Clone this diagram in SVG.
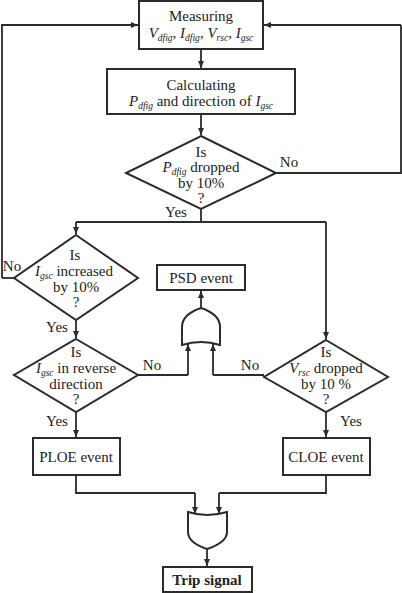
<svg xmlns="http://www.w3.org/2000/svg" width="402" height="593" viewBox="0 0 402 593">
<style>
.box{fill:#fff;stroke:#2b2b2b;stroke-width:2}
.ln{fill:none;stroke:#2b2b2b;stroke-width:1.8}
.ar{fill:none;stroke:#2b2b2b;stroke-width:1.8;marker-end:url(#ah)}
text{font-family:"Liberation Serif","Times New Roman",serif;font-size:15px;fill:#222;text-anchor:middle}
.i{font-style:italic}
.s{font-style:italic;font-size:9.5px}
.b{font-weight:bold}
</style>
<defs>
<marker id="ah" markerWidth="8" markerHeight="8" refX="7" refY="4" orient="auto" markerUnits="userSpaceOnUse">
<path d="M0,1 L7,4 L0,7 Z" fill="#2b2b2b"/>
</marker>
</defs>
<rect width="402" height="593" fill="#fff"/>
<g id="connectors">
<path class="ln" d="M2,278 H14"/>
<path class="ar" d="M2,278 V25 H138"/>
<path class="ln" d="M276,173 H401 V25"/>
<path class="ar" d="M401,25 H264"/>
<path class="ar" d="M201,49 V68"/>
<path class="ar" d="M201,114 V135"/>
<path class="ln" d="M201,209 V222 M76,222 H326"/>
<path class="ar" d="M76,222 V234"/>
<path class="ar" d="M326,222 V339"/>
<path class="ar" d="M76,320 V338"/>
<path class="ln" d="M138,375 H188"/>
<path class="ar" d="M188,375 V344"/>
<path class="ln" d="M264,375 H213"/>
<path class="ar" d="M213,375 V344"/>
<path class="ar" d="M201,309 V291"/>
<path class="ar" d="M76,412 V437"/>
<path class="ar" d="M326,412 V437"/>
<path class="ln" d="M76,475 V493 H195"/>
<path class="ar" d="M195,493 V514"/>
<path class="ln" d="M326,475 V493 H219"/>
<path class="ar" d="M219,493 V514"/>
<path class="ar" d="M207,549 V566"/>
</g>
<g id="measuring">
<rect class="box" x="139" y="1" width="124" height="48"/>
<text x="201" y="21">Measuring</text>
<text x="201" y="38"><tspan class="i">V</tspan><tspan class="s" dy="2.5">dfig</tspan><tspan dy="-2.5">, </tspan><tspan class="i">I</tspan><tspan class="s" dy="2.5">dfig</tspan><tspan dy="-2.5">, </tspan><tspan class="i">V</tspan><tspan class="s" dy="2.5">rsc</tspan><tspan dy="-2.5">, </tspan><tspan class="i">I</tspan><tspan class="s" dy="2.5">gsc</tspan></text>
</g>
<g id="calculating">
<rect class="box" x="107" y="69" width="188" height="45"/>
<text x="201" y="90">Calculating</text>
<text x="201" y="106"><tspan class="i">P</tspan><tspan class="s" dy="2.5">dfig</tspan><tspan dy="-2.5"> and direction of </tspan><tspan class="i">I</tspan><tspan class="s" dy="2.5">gsc</tspan></text>
</g>
<g id="d1">
<path class="box" d="M201,136 L276,173 L201,209 L126,173 Z"/>
<text x="201" y="157">Is</text>
<text x="201" y="172"><tspan class="i">P</tspan><tspan class="s" dy="2.5">dfig</tspan><tspan dy="-2.5"> dropped</tspan></text>
<text x="201" y="188">by 10%</text>
<text x="201" y="203">?</text>
<text x="289" y="167">No</text>
<text x="176" y="217">Yes</text>
</g>
<g id="d2">
<path class="box" d="M76,235 L138,278 L76,320 L14,278 Z"/>
<text x="75" y="260">Is</text>
<text x="74" y="276"><tspan class="i">I</tspan><tspan class="s" dy="2.5">gsc</tspan><tspan dy="-2.5"> increased</tspan></text>
<text x="76" y="292">by 10%</text>
<text x="76" y="307">?</text>
<text x="12" y="271">No</text>
<text x="57" y="332">Yes</text>
</g>
<g id="d3">
<path class="box" d="M76,339 L138,375 L76,412 L14,375 Z"/>
<text x="76" y="357">Is</text>
<text x="76" y="373"><tspan class="i">I</tspan><tspan class="s" dy="2.5">gsc</tspan><tspan dy="-2.5"> in reverse</tspan></text>
<text x="76" y="389">direction</text>
<text x="76" y="404">?</text>
<text x="152" y="370">No</text>
<text x="57" y="426">Yes</text>
</g>
<g id="d4">
<path class="box" d="M326,340 L388,377 L326,412 L264,377 Z"/>
<text x="326" y="357">Is</text>
<text x="326" y="373"><tspan class="i">V</tspan><tspan class="s" dy="2.5">rsc</tspan><tspan dy="-2.5"> dropped</tspan></text>
<text x="326" y="389">by 10 %</text>
<text x="326" y="404">?</text>
<text x="250" y="370">No</text>
<text x="351" y="426">Yes</text>
</g>
<g id="psd">
<rect class="box" x="157" y="265" width="88" height="25"/>
<text x="201" y="283">PSD event</text>
</g>
<g id="gate1">
<path class="box" d="M182,345 V327 C182,316 192,311 201,308 C210,311 220,316 220,327 V345 Q201,339 182,345 Z"/>
</g>
<g id="ploe">
<rect class="box" x="33" y="438" width="87" height="37"/>
<text x="76" y="462">PLOE event</text>
</g>
<g id="cloe">
<rect class="box" x="283" y="438" width="87" height="37"/>
<text x="326" y="462">CLOE event</text>
</g>
<g id="gate2">
<path class="box" d="M188,512 Q207,518 227,512 V532 C227,541 216,546 207,549 C198,546 188,541 188,532 Z"/>
</g>
<g id="trip">
<rect class="box" x="163" y="567" width="89" height="25"/>
<text class="b" x="207" y="585">Trip signal</text>
</g>
</svg>
